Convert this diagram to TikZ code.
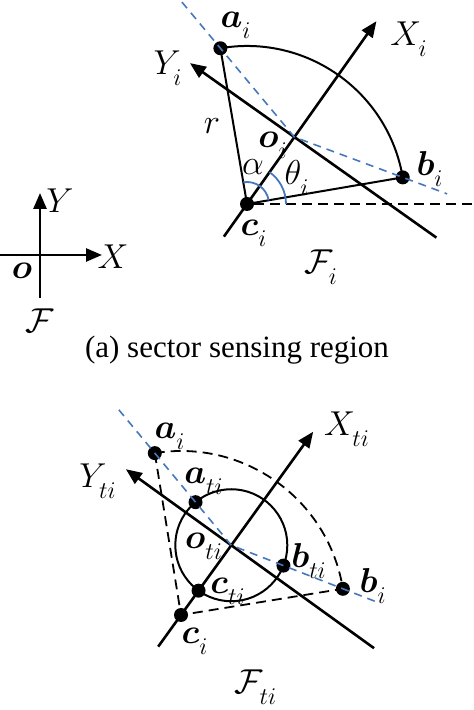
\documentclass[tikz,border=0pt]{standalone}
\usepackage{amsmath}
\usepackage{bm}
\usepackage{fontspec}
\setmainfont{Liberation Serif}
\usetikzlibrary{arrows.meta,calc}
\definecolor{lineblue}{RGB}{70,120,190}
\newcommand{\lsub}[1]{_{\raisebox{-3pt}{$\scriptstyle #1$}}}
\begin{document}
\begin{tikzpicture}[x=0.5pt,y=0.5pt,
  dot/.style={circle,fill=black,inner sep=0pt,minimum size=7pt},
  lbl/.style={inner sep=0pt,font=\fontsize{17}{19}\selectfont},
  axis/.style={line width=1.3pt,-{Triangle[length=8pt,width=6.5pt]}},
  side/.style={line width=1pt},
  dashside/.style={line width=0.9pt,dash pattern=on 5pt off 3pt},
  blueline/.style={lineblue,line width=0.8pt,dash pattern=on 4pt off 3pt},
  angarc/.style={lineblue,line width=0.9pt}]
\useasboundingbox (0,0) rectangle (474,710);
% world frame
\coordinate (O) at (40,455);
\coordinate (Xw0) at (0,455);
\coordinate (Xw) at (102,455);
\coordinate (Yw0) at (40,412);
\coordinate (Yw) at (40,517);
\draw[axis] (Xw0) -- (Xw);
\draw[axis] (Yw0) -- (Yw);
\node(Xwlbl) [lbl] at (113,453) {$X$};
\node(Ywlbl) [lbl] at (60,509) {$Y$};
\node(Olbl) [lbl] at (22,439) {$\bm{o}$};
\node(Flbl) [lbl] at (40,389) {$\mathcal{F}$};
% sector sensing region
\node(ci) [dot] at (247,506) {};
\node(ai) [dot] at ($(ci)+(99.7:158)$) {};
\node(bi) [dot] at ($(ci)+(9.7:158)$) {};
\coordinate (oi) at ($(ci)+(54.7:82)$);
\coordinate (Xi0) at ($(ci)+(234.7:40)$);
\coordinate (Xi) at ($(ci)+(54.7:224)$);
\coordinate (Yi0) at ($(oi)+(-35.3:174)$);
\coordinate (Yi) at ($(oi)+(144.7:128)$);
\coordinate (hend) at (474,506);
\coordinate (aend) at ($(oi)!1.52!(ai)$);
\coordinate (bend) at ($(oi)!1.41!(bi)$);
\draw[dashside] (ci) -- (hend);
\draw[side] (ai.center) -- (ci.center) -- (bi.center);
\draw[side] (ai.center) arc[start angle=99.7,end angle=9.7,radius=158];
\draw[axis] (Xi0) -- (Xi);
\draw[axis] (Yi0) -- (Yi);
\draw[angarc] ($(ci)+(99.7:22)$) arc[start angle=99.7,end angle=9.7,radius=22];
\draw[angarc] ($(ci)+(54.7:39)$) arc[start angle=54.7,end angle=0,radius=39];
\draw[blueline] (aend) -- (oi) -- (bend);
\node(ailbl) [lbl] at (236,685) {$\bm{a}\lsub{i}$};
\node(Xilbl) [lbl] at (409,671) {$X\lsub{i}$};
\node(Yilbl) [lbl] at (168,642) {$Y\lsub{i}$};
\node(rlbl) [lbl] at (212,584) {$r$};
\node(oilbl) [lbl] at (273,565) {$\bm{o}\lsub{i}$};
\node(alphalbl) [lbl] at (253,543) {$\alpha$};
\node(thetalbl) [lbl] at (297,532) {$\theta\lsub{i}$};
\node(bilbl) [lbl] at (430,541) {$\bm{b}\lsub{i}$};
\node(cilbl) [lbl] at (254,477) {$\bm{c}\lsub{i}$};
\node(Filbl) [lbl] at (321,443) {$\mathcal{F}\lsub{i}$};
\node(caption) [font=\fontsize{15.5}{17}\selectfont] at (237,360) {(a) sector sensing region};
% transformed frame
\node(c2) [dot] at (181,95) {};
\node(a2) [dot] at ($(c2)+(99.2:164)$) {};
\node(b2) [dot] at ($(c2)+(9.2:164)$) {};
\coordinate (oti) at ($(c2)+(54.2:86)$);
\node(cti) [dot] at ($(c2)+(54.2:30)$) {};
\node(ati) [dot] at ($(oti)!28pt!(a2)$) {};
\node(bti) [dot] at ($(oti)!28pt!(b2)$) {};
\coordinate (Xti0) at ($(c2)+(234.2:39)$);
\coordinate (Xti) at ($(c2)+(54.2:226)$);
\coordinate (Yti0) at ($(oti)+(-35.8:176)$);
\coordinate (Yti) at ($(oti)+(144.2:130)$);
\coordinate (a2end) at ($(oti)!1.47!(a2)$);
\coordinate (b2end) at ($(oti)!1.31!(b2)$);
\draw[dashside] (a2.center) -- (c2.center) -- (b2.center);
\draw[dashside] (a2.center) arc[start angle=99.2,end angle=9.2,radius=164];
\draw[side] (oti) circle[radius=56];
\draw[axis] (Xti0) -- (Xti);
\draw[axis] (Yti0) -- (Yti);
\draw[blueline] (a2end) -- (oti) -- (b2end);
\node(a2lbl) [lbl] at (170,274) {$\bm{a}\lsub{i}$};
\node(Xtilbl) [lbl] at (347,281) {$X\lsub{ti}$};
\node(Ytilbl) [lbl] at (98,229) {$Y\lsub{ti}$};
\node(atilbl) [lbl] at (204,229) {$\bm{a}\lsub{ti}$};
\node(otilbl) [lbl] at (204,164) {$\bm{o}\lsub{ti}$};
\node(btilbl) [lbl] at (309,149) {$\bm{b}\lsub{ti}$};
\node(ctilbl) [lbl] at (228,119) {$\bm{c}\lsub{ti}$};
\node(b2lbl) [lbl] at (373,124) {$\bm{b}\lsub{i}$};
\node(c2lbl) [lbl] at (195,69) {$\bm{c}\lsub{i}$};
\node(Ftilbl) [lbl] at (256,23) {$\mathcal{F}\lsub{ti}$};
\end{tikzpicture}
\end{document}
